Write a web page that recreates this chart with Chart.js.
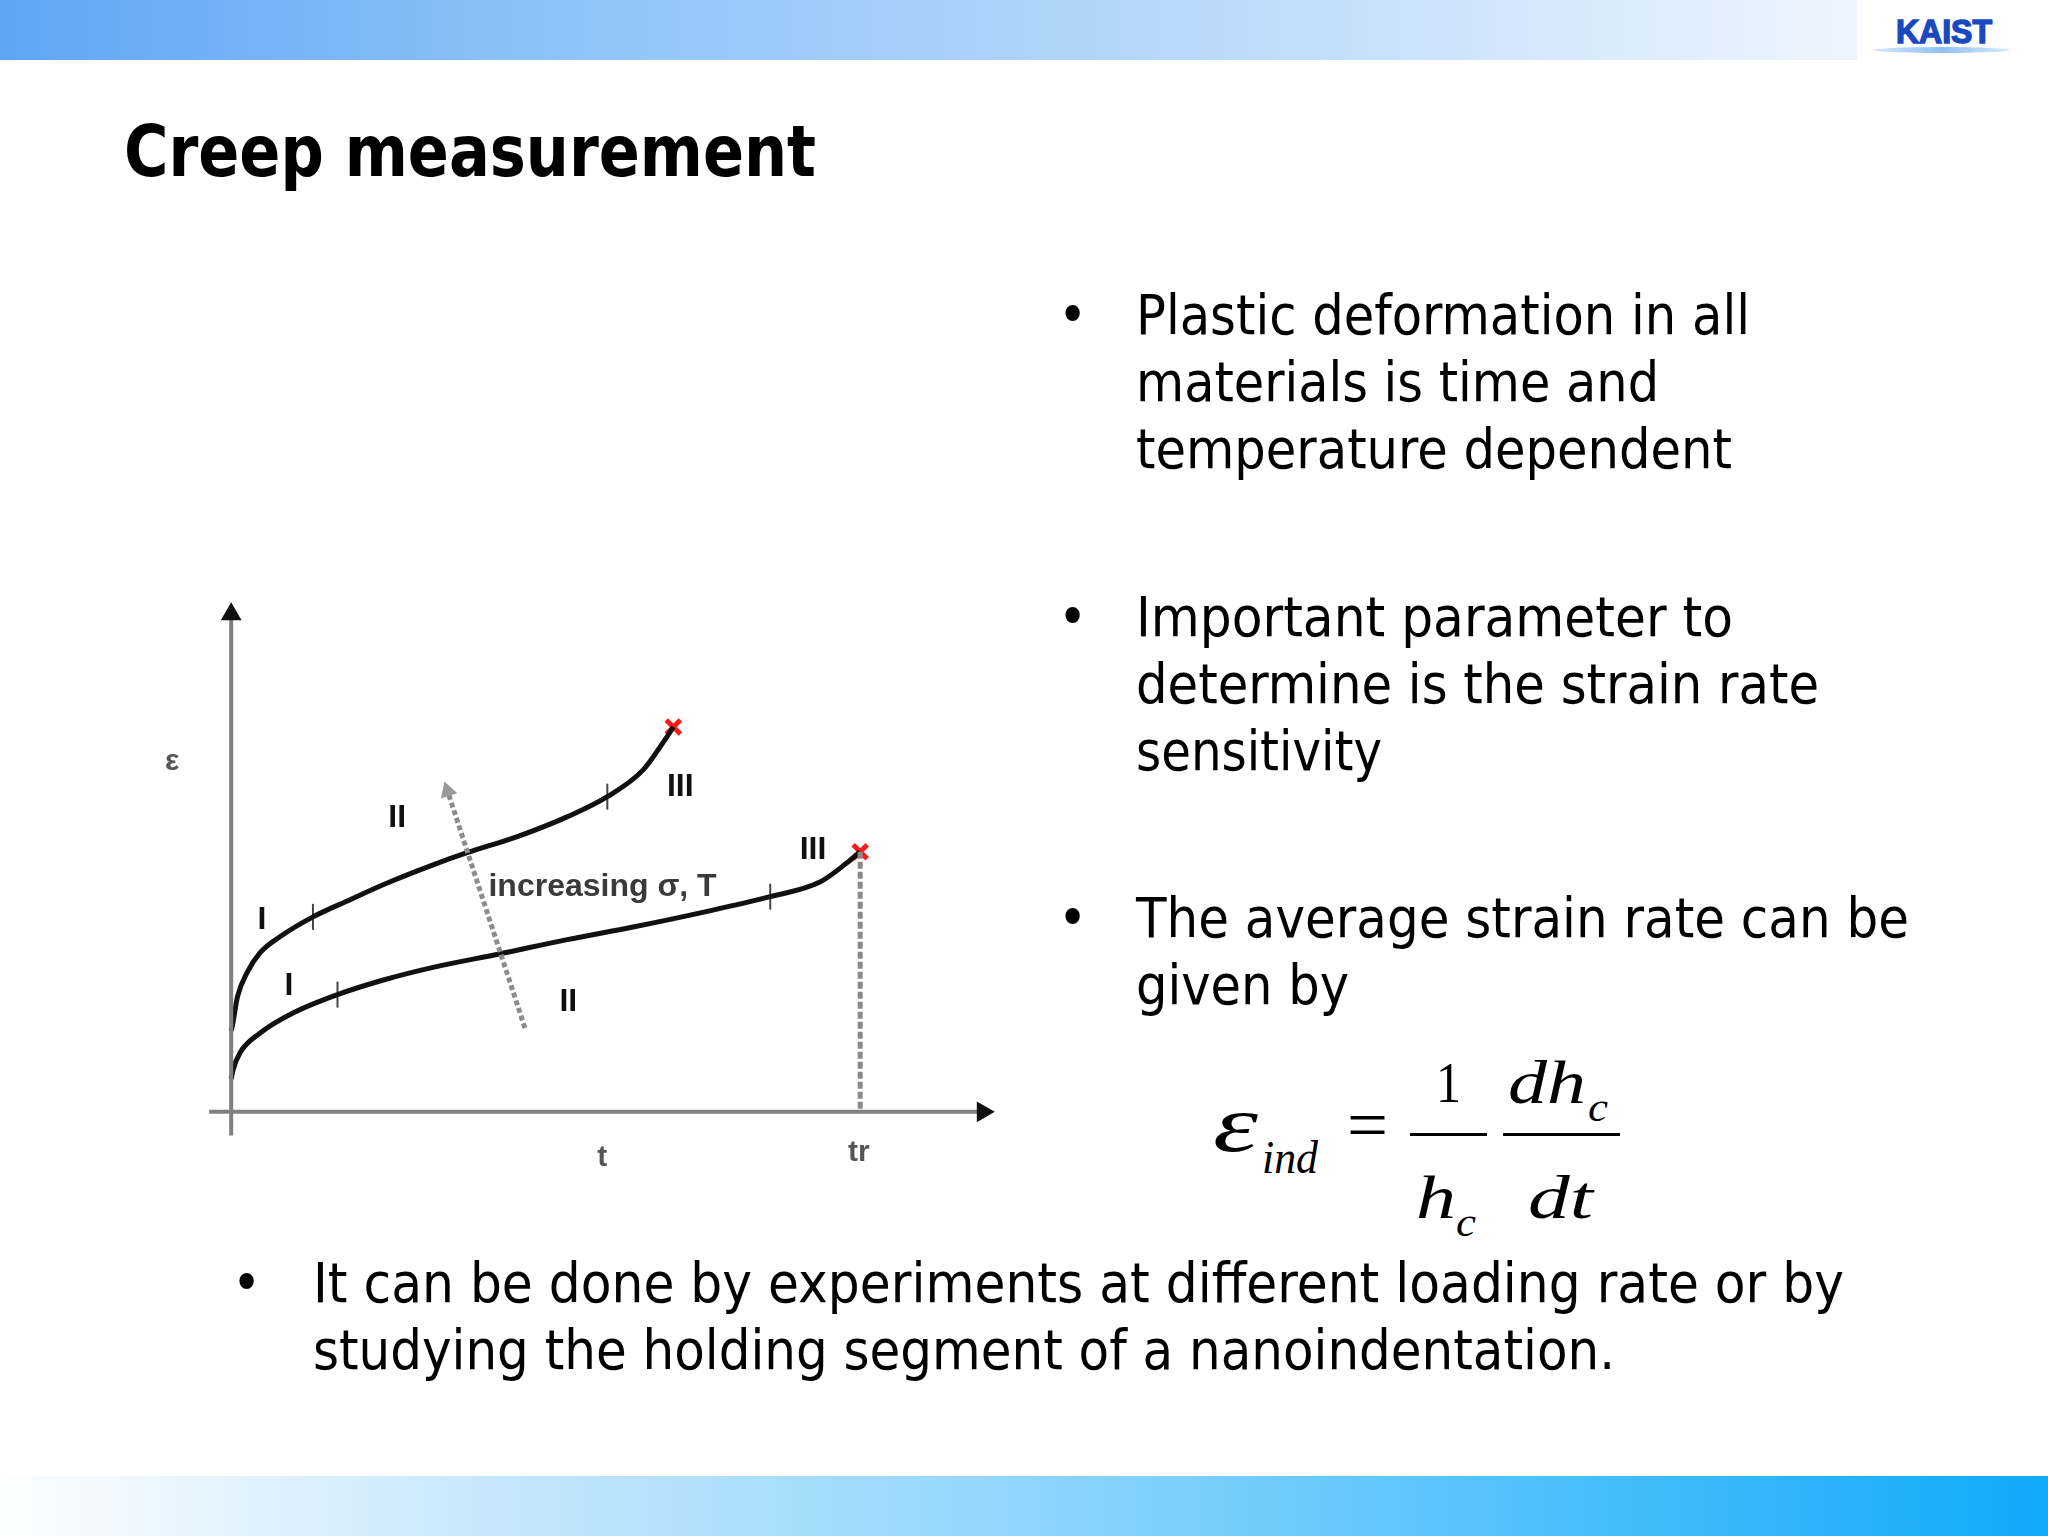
<!DOCTYPE html>
<html lang="en">
<head>
<meta charset="UTF-8">
<title>Creep measurement</title>
<script src="https://cdn.jsdelivr.net/npm/chart.js"></script>
<style>
    html, body { margin: 0; padding: 0; background: #fff; }
    body { width: 2048px; height: 1536px; position: relative; overflow: hidden;
           font-family: "DejaVu Sans Condensed", "DejaVu Sans", sans-serif; color: #000; }
    .topbar { position: absolute; left: 0; top: 0; width: 1857px; height: 60px;
              background: linear-gradient(to right, #5ea6f4 0%, #8ec3f8 30%, #b3d6fa 60%, #eef5fe 100%); }
    .logo { position: absolute; left: 1896px; top: 14px; font: bold 34px "Liberation Sans", Arial, sans-serif;
            color: #1a48c0; line-height: 1; -webkit-text-stroke: 1.5px #1a48c0; }
    .logo-swoosh { position: absolute; left: 1873px; top: 47px; width: 137px; height: 6px; border-radius: 50%;
                   background: linear-gradient(to right, rgba(120,180,245,0.3), #8fc1f5 50%, rgba(120,180,245,0.3)); }
    .bottombar { position: absolute; left: 0; top: 1476px; width: 2048px; height: 60px;
                 background: linear-gradient(to right, #fdfeff 0%, #c4e6fc 25%, #8fd6fc 50%, #4fc0fb 75%, #10a9f8 100%); }
    .title { position: absolute; left: 124px; top: 115px; font-size: 72px; font-weight: bold; line-height: 1; white-space: nowrap; }
    .block { position: absolute; font-size: 55px; line-height: 67px; white-space: nowrap; }
    .fit { display: inline-block; transform-origin: 0 50%; }
    .dot { position: absolute; font-size: 55px; line-height: 67px; }
    .fx { position: absolute; font-family: "Liberation Serif", "Times New Roman", serif; font-style: italic; line-height: 1; white-space: nowrap; }
    .fx.up { font-style: normal; }
    .bar { position: absolute; height: 3px; background: #000; }
    #creepChart { position: absolute; left: 140px; top: 580px; }
</style>
</head>
<body>
    <div class="topbar"></div>
    <div class="logo"><span class="fit" data-w="96">KAIST</span></div>
    <div class="logo-swoosh"></div>
    <div class="bottombar"></div>

    <div class="title"><span class="fit" data-w="692">Creep measurement</span></div>

    <div class="dot" style="left:1058px; top:282px;">•</div>
    <div class="block" style="left:1136px; top:282px;">
        <span class="fit" data-w="614">Plastic deformation in all</span><br>
        <span class="fit" data-w="523">materials is time and</span><br>
        <span class="fit" data-w="596">temperature dependent</span>
    </div>

    <div class="dot" style="left:1058px; top:584px;">•</div>
    <div class="block" style="left:1136px; top:584px;">
        <span class="fit" data-w="597">Important parameter to</span><br>
        <span class="fit" data-w="683">determine is the strain rate</span><br>
        <span class="fit" data-w="246">sensitivity</span>
    </div>

    <div class="dot" style="left:1058px; top:885px;">•</div>
    <div class="block" style="left:1136px; top:885px;">
        <span class="fit" data-w="773">The average strain rate can be</span><br>
        <span class="fit" data-w="213">given by</span>
    </div>

    <!-- average strain rate formula -->
    <div class="fx" style="left:1213px; top:1084px; font-size:80px;"><span class="fit" data-w="45">ε</span></div>
    <div class="fx" style="left:1262px; top:1135px; font-size:46px;"><span class="fit" data-w="56">ind</span></div>
    <div class="fx up" style="left:1347px; top:1089px; font-size:72px;"><span class="fit" data-w="41">=</span></div>
    <div class="fx up" style="left:1436px; top:1054px; font-size:58px;"><span class="fit" data-w="25">1</span></div>
    <div class="bar" style="left:1410px; top:1133px; width:77px;"></div>
    <div class="fx" style="left:1416px; top:1166px; font-size:62px;"><span class="fit" data-w="40">h</span></div>
    <div class="fx" style="left:1456px; top:1203px; font-size:40px;"><span class="fit" data-w="20">c</span></div>
    <div class="fx" style="left:1508px; top:1051px; font-size:62px;"><span class="fit" data-w="78">dh</span></div>
    <div class="fx" style="left:1588px; top:1088px; font-size:40px;"><span class="fit" data-w="20">c</span></div>
    <div class="bar" style="left:1503px; top:1133px; width:117px;"></div>
    <div class="fx" style="left:1528px; top:1166px; font-size:62px;"><span class="fit" data-w="65">dt</span></div>

    <div class="dot" style="left:232px; top:1250px;">•</div>
    <div class="block" style="left:313px; top:1250px;">
        <span class="fit" data-w="1531">It can be done by experiments at different loading rate or by</span><br>
        <span class="fit" data-w="1302">studying the holding segment of a nanoindentation.</span>
    </div>

    <canvas id="creepChart" width="890" height="600"></canvas>

    <script>
        // creep curves, time in % of rupture time t_r, strain in arbitrary units
        const upperTime   = [0, 0.3, 1.0, 2.5, 4.6, 7.8, 13.0, 18.9, 24.8, 32.1, 37.5, 45.5, 53.4, 59.8, 65.5, 69.3, 70.3];
        const upperStrain = [16.0, 17.8, 22.8, 27.5, 31.5, 34.7, 38.6, 42.0, 45.3, 48.9, 51.3, 54.5, 58.4, 62.4, 67.7, 74.3, 76.2];
        const lowerTime   = [0, 0.3, 1.4, 4.6, 9.9, 16.9, 24.2, 32.1, 42.8, 53.4, 63.9, 74.6, 85.7, 93.6, 97.9, 100];
        const lowerStrain = [6.5, 8.3, 11.7, 15.6, 19.6, 23.2, 26.1, 28.6, 31.3, 34.1, 36.6, 39.4, 42.6, 45.5, 49.3, 51.5];

        // primary/secondary/tertiary boundaries on each curve
        const boundaryTime   = [13.0, 59.8, 16.9, 85.7];
        const boundaryStrain = [38.6, 62.4, 23.2, 42.6];

        // rupture points (red crosses)
        const ruptureTime   = [70.3, 100];
        const ruptureStrain = [76.2, 51.5];

        // "increasing sigma, T" arrow, tail then head
        const trendTime   = [46.7, 34.4];
        const trendStrain = [16.6, 63.5];

        // stage labels
        const stageText   = ['I', 'II', 'III', 'I', 'II', 'III'];
        const stageTime   = [4.9, 26.4, 71.4, 9.2, 53.6, 92.5];
        const stageStrain = [38.0, 58.2, 64.2, 24.8, 21.8, 51.9];

        // axis labels
        const axisText   = ['ε', 't', 'tr'];
        const axisTime   = [-9.4, 59.0, 99.8];
        const axisStrain = [69.3, -9.1, -8.1];

        const toPoints = (xs, ys) => xs.map((x, i) => ({ x: x, y: ys[i] }));

        const labelPlugin = {
            id: 'creepLabels',
            afterDatasetsDraw(chart) {
                const { ctx, scales: { x, y } } = chart;
                ctx.save();
                ctx.textAlign = 'center';
                ctx.textBaseline = 'middle';
                ctx.fillStyle = '#111';
                ctx.font = 'bold 32px "Liberation Sans", Arial, sans-serif';
                stageText.forEach((t, i) => {
                    ctx.fillText(t, x.getPixelForValue(stageTime[i]), y.getPixelForValue(stageStrain[i]));
                });

                ctx.fillStyle = '#3a3a3a';
                ctx.textAlign = 'left';
                ctx.font = 'bold 32px "Liberation Sans", Arial, sans-serif';
                ctx.fillText('increasing σ, T', x.getPixelForValue(40.9), y.getPixelForValue(44.4));

                ctx.fillStyle = '#555';
                ctx.textAlign = 'center';
                ctx.font = 'bold 30px "Liberation Sans", Arial, sans-serif';
                axisText.forEach((t, i) => {
                    ctx.fillText(t, x.getPixelForValue(axisTime[i]), y.getPixelForValue(axisStrain[i]));
                });
                ctx.restore();
            }
        };

        new Chart(document.getElementById('creepChart'), {
            type: 'scatter',
            data: {
                datasets: [
                    {   // strain axis
                        data: [{ x: 0, y: -4.7 }, { x: 0, y: 98.5 }],
                        showLine: true, borderColor: '#808080', borderWidth: 4,
                        pointRadius: [0, 12], pointStyle: 'triangle',
                        pointBackgroundColor: '#111', pointBorderColor: '#111', pointBorderWidth: 0
                    },
                    {   // time axis
                        data: [{ x: -3.5, y: 0 }, { x: 119.5, y: 0 }],
                        showLine: true, borderColor: '#808080', borderWidth: 4,
                        pointRadius: [0, 12], pointStyle: 'triangle', pointRotation: [0, 90],
                        pointBackgroundColor: '#111', pointBorderColor: '#111', pointBorderWidth: 0
                    },
                    {   // rupture time marker
                        data: [{ x: ruptureTime[1], y: ruptureStrain[1] }, { x: ruptureTime[1], y: 0 }],
                        showLine: true, borderColor: '#8a8a8a', borderWidth: 5, borderDash: [7, 3],
                        pointRadius: 0
                    },
                    {   // trend arrow
                        data: toPoints(trendTime, trendStrain),
                        showLine: true, borderColor: '#8c8c8c', borderWidth: 5, borderDash: [5, 3],
                        pointRadius: [0, 10], pointStyle: 'triangle', pointRotation: [0, -18],
                        pointBackgroundColor: '#999', pointBorderColor: '#999', pointBorderWidth: 0
                    },
                    {   // upper creep curve
                        data: toPoints(upperTime, upperStrain),
                        showLine: true, borderColor: '#111', borderWidth: 5,
                        cubicInterpolationMode: 'monotone', pointRadius: 0
                    },
                    {   // lower creep curve
                        data: toPoints(lowerTime, lowerStrain),
                        showLine: true, borderColor: '#111', borderWidth: 5,
                        cubicInterpolationMode: 'monotone', pointRadius: 0
                    },
                    {   // stage boundaries
                        data: toPoints(boundaryTime, boundaryStrain),
                        showLine: false, pointStyle: 'line', pointRotation: 90, pointRadius: 13,
                        pointBorderColor: '#444', pointBorderWidth: 2
                    },
                    {   // rupture
                        data: toPoints(ruptureTime, ruptureStrain),
                        showLine: false, pointStyle: 'crossRot', pointRadius: 10,
                        pointBorderColor: '#ff1a1a', pointBorderWidth: 5
                    }
                ]
            },
            options: {
                responsive: false,
                animation: false,
                layout: { padding: 0, autoPadding: false },
                plugins: { legend: { display: false }, tooltip: { enabled: false } },
                scales: {
                    x: { type: 'linear', min: -14.5, max: 127, display: false },
                    y: { type: 'linear', min: -13.5, max: 105.3, display: false }
                }
            },
            plugins: [labelPlugin]
        });

        // squeeze the slide text to the measured line widths
        document.querySelectorAll('.fit').forEach(el => {
            const w = el.getBoundingClientRect().width;
            el.style.transform = 'scaleX(' + (Number(el.dataset.w) / w) + ')';
        });
    </script>
</body>
</html>
